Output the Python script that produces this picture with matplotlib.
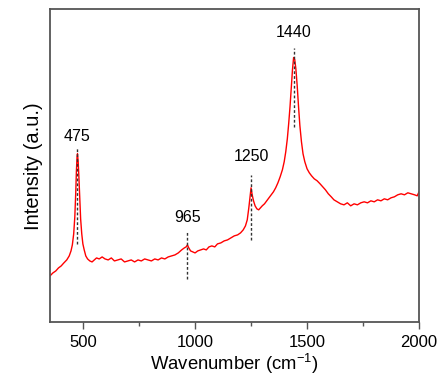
import matplotlib
matplotlib.use('Agg')
import matplotlib.pyplot as plt
from matplotlib.ticker import MultipleLocator

plt.rcParams['font.family'] = ['Liberation Sans', 'DejaVu Sans']

# spectrum (wavenumber, intensity in a.u.)
wavenumber = [352, 365, 378, 390, 402, 414, 427, 438, 446, 452, 458, 463, 467, 470, 473, 475,
              478, 481, 485, 489, 494, 499, 505, 512, 520, 530, 540, 550, 560, 572, 585, 598,
              612, 626, 640, 655, 670, 685, 700, 715, 730, 745, 760, 775, 790, 805, 820, 835,
              850, 865, 880, 895, 910, 925, 940, 952, 960, 966, 972, 980, 990, 1000, 1012, 1025,
              1038, 1050, 1062, 1075, 1088, 1100, 1115, 1130, 1145, 1160, 1175, 1190, 1203, 1215,
              1225, 1233, 1240, 1245, 1250, 1255, 1261, 1268, 1276, 1284, 1292, 1300, 1310, 1320,
              1330, 1340, 1350, 1360, 1370, 1380, 1390, 1398, 1405, 1412, 1418, 1424, 1430, 1435,
              1440, 1445, 1450, 1456, 1462, 1468, 1475, 1482, 1490, 1500, 1510, 1520, 1532, 1545,
              1558, 1570, 1582, 1595, 1608, 1620, 1635, 1650, 1665, 1680, 1695, 1710, 1725, 1740,
              1755, 1770, 1785, 1800, 1815, 1830, 1845, 1860, 1875, 1890, 1905, 1920, 1935, 1950,
              1965, 1980, 1992, 2000]
intensity = [46, 49, 51, 54, 56, 59, 62, 66, 71, 77, 88, 105, 128, 150, 165, 168,
             160, 146, 124, 103, 88, 78, 72, 66, 63, 61, 60, 62, 64, 63, 65, 63,
             62, 64, 61, 62, 63, 60, 61, 62, 60, 62, 61, 63, 62, 61, 63, 62,
             64, 63, 65, 66, 67, 69, 72, 74, 75, 77, 74, 71, 70, 69, 71, 72,
             73, 72, 75, 76, 75, 78, 79, 81, 82, 84, 86, 87, 89, 92,
             96, 102, 114, 124, 134, 127, 121, 116, 113, 112, 114, 116, 118, 121,
             124, 127, 130, 134, 139, 145, 152, 160, 170, 183, 198, 215, 235, 252,
             264, 262, 253, 236, 215, 196, 180, 168, 160, 153, 149, 146, 143, 141,
             138, 135, 132, 128, 125, 122, 120, 118, 117, 119, 116, 118, 117, 119,
             120, 119, 121, 120, 122, 121, 123, 122, 124, 125, 127, 128, 127, 129,
             128, 127, 126, 130]

peaks = [475, 965, 1250, 1440]
peak_labels = ['475', '965', '1250', '1440']
marker_low = [78, 43, 82, 195]
marker_high = [175, 90, 147, 274]
label_y = [178, 97, 158, 282]

fig = plt.figure(figsize=(4.42, 3.78), dpi=100)
ax = fig.add_axes([0.112, 0.148, 0.836, 0.827])

ax.plot(wavenumber, intensity, color='#ff0000', lw=1.0)

for x, lo, hi, lab, ty in zip(peaks, marker_low, marker_high, peak_labels, label_y):
    ax.plot([x, x], [lo, hi], color='#333333', lw=1.0, ls=(0, (2, 1.5)))
    ax.text(x, ty, lab, ha='center', va='bottom', fontsize=11.5)

ax.set_xlim(350, 2000)
ax.set_ylim(0, 312)
ax.xaxis.set_major_locator(MultipleLocator(500))
ax.xaxis.set_minor_locator(MultipleLocator(250))
ax.set_yticks([])
ax.tick_params(axis='x', which='major', direction='out', length=5, width=1, color='#555555',
               labelsize=12, pad=4)
ax.tick_params(axis='x', which='minor', direction='out', length=3, width=1, color='#555555')
for s in ax.spines.values():
    s.set_color('#555555')
    s.set_linewidth(1.3)

ax.set_xlabel('Wavenumber (cm$^{\\mathregular{-1}}$)', fontsize=13.3, labelpad=2)
ax.set_ylabel('Intensity (a.u.)', fontsize=14.5, labelpad=5)

fig.savefig('out.png', dpi=100)
